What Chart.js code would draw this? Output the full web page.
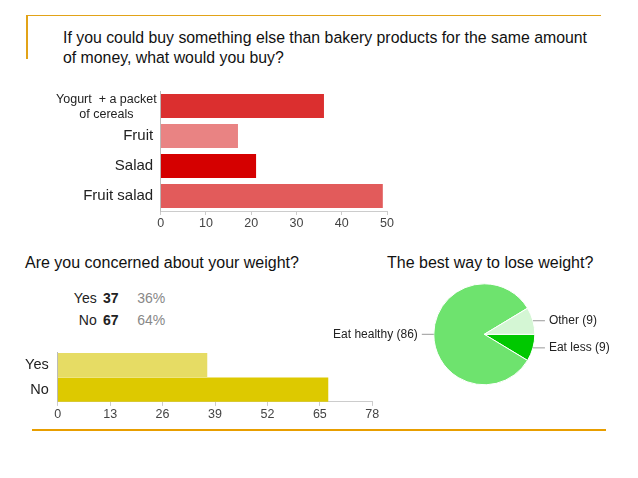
<!DOCTYPE html>
<html>
<head>
<meta charset="utf-8">
<script src="https://cdn.jsdelivr.net/npm/chart.js@4.4.1/dist/chart.umd.min.js"></script>
<style>
body { margin:0; width:638px; height:478px; background:#fff; position:relative; overflow:hidden; font-family:"Liberation Sans", Arial, sans-serif; color:#111; }
.gold { position:absolute; background:#e2a318; }
.title { position:absolute; font-size:16px; line-height:20px; white-space:nowrap; }
.cell { position:absolute; font-size:14px; line-height:20px; white-space:nowrap; }
canvas { position:absolute; }
</style>
</head>
<body>
<div class="gold" style="left:26px;top:14.5px;width:575px;height:1.6px"></div>
<div class="gold" style="left:26px;top:14.5px;width:1.6px;height:44px"></div>
<div class="gold" style="left:32px;top:429px;width:574px;height:1.8px;background:#e89e00"></div>

<div class="title" style="left:63px;top:28px;font-size:15.85px">If you could buy something else than bakery products for the same amount<br>of money, what would you buy?</div>
<canvas id="foodChart" width="400" height="150" style="left:0;top:85px"></canvas>

<div class="title" style="left:25px;top:253px">Are you concerned about your weight?</div>
<div id="weightTable"></div>
<canvas id="weightChart" width="400" height="95" style="left:0;top:335px"></canvas>

<div class="title" style="left:387px;top:253px">The best way to lose weight?</div>
<canvas id="lossChart" width="318" height="130" style="left:320px;top:270px"></canvas>

<script>
const foodLabels = [['Yogurt  + a packet', 'of cereals'], 'Fruit', 'Salad', 'Fruit salad'];
const foodValues = [36, 17, 21, 49];
const foodColors = ['#db2f2f', '#e98383', '#d50000', '#e25b5b'];
const foodTicks = [0, 10, 20, 30, 40, 50];

const weightLabels = ['Yes', 'No'];
const weightValues = [37, 67];
const weightColors = ['#e6dc64', '#ddc900'];
const weightTicks = [0, 13, 26, 39, 52, 65, 78];

const lossLabels = ['Eat less', 'Eat healthy', 'Other'];
const lossValues = [9, 86, 9];
const lossColors = ['#00c800', '#6ee36e', '#d4f6d4'];

const FONT = '"Liberation Sans", Arial, sans-serif';
Chart.defaults.font.family = FONT;
Chart.defaults.animation = false;

// x axis shared look for both bar charts
function valueAxis(ticks, height) {
    return {
        min: ticks[0],
        max: ticks[ticks.length - 1],
        afterFit: s => { s.height = height; },
        grid: { drawOnChartArea: false, drawTicks: true, tickLength: 4, color: '#ccc' },
        border: { color: '#ccc' },
        ticks: {
            stepSize: ticks[1] - ticks[0],
            autoSkip: false,
            maxRotation: 0,
            padding: 1,
            color: '#444',
            font: { size: 12.5 }
        }
    };
}

// top chart draws its own category labels (the first one is two centred lines)
const categoryLabels = {
    id: 'categoryLabels',
    afterDraw(chart) {
        const ctx = chart.ctx;
        const y = chart.scales.y;
        ctx.save();
        ctx.fillStyle = '#222';
        ctx.textBaseline = 'middle';
        foodLabels.forEach((lab, i) => {
            const cy = y.getPixelForValue(i);
            if (Array.isArray(lab)) {
                ctx.font = '12.5px ' + FONT;
                ctx.textAlign = 'center';
                const w = Math.max(...lab.map(l => ctx.measureText(l).width));
                lab.forEach((l, k) => {
                    ctx.fillText(l, y.right - 4 - w / 2, cy + 1 + (k - (lab.length - 1) / 2) * 14.3);
                });
            } else {
                ctx.font = '15px ' + FONT;
                ctx.textAlign = 'right';
                ctx.fillText(lab, y.right - 7.5, cy);
            }
        });
        ctx.restore();
    }
};

new Chart(document.getElementById('foodChart'), {
    type: 'bar',
    data: {
        labels: foodLabels,
        datasets: [{ data: foodValues, backgroundColor: foodColors, barThickness: 23.5 }]
    },
    options: {
        responsive: false,
        indexAxis: 'y',
        layout: { padding: { top: 6, right: 13, left: 0, bottom: 0 } },
        plugins: { legend: { display: false }, tooltip: { enabled: false } },
        scales: {
            x: valueAxis(foodTicks, 24),
            y: {
                afterFit: s => { s.width = 160.7; },
                grid: { display: false },
                border: { color: '#bbb' },
                ticks: { display: false }
            }
        }
    },
    plugins: [categoryLabels]
});

// small answer table above the yes/no bars
const total = weightValues.reduce((a, b) => a + b, 0);
const table = document.getElementById('weightTable');
weightLabels.forEach((lab, i) => {
    const top = 287.7 + i * 22.3;
    table.innerHTML +=
        `<div class="cell" style="left:40px;width:56.7px;text-align:right;top:${top}px;color:#222">${lab}</div>` +
        `<div class="cell" style="left:103px;top:${top}px;font-weight:bold;color:#222">${weightValues[i]}</div>` +
        `<div class="cell" style="left:137.3px;top:${top}px;color:#888">${Math.round(weightValues[i] / total * 100)}%</div>`;
});

new Chart(document.getElementById('weightChart'), {
    type: 'bar',
    data: {
        labels: weightLabels,
        datasets: [{ data: weightValues, backgroundColor: weightColors, barThickness: 23.5 }]
    },
    options: {
        responsive: false,
        indexAxis: 'y',
        layout: { padding: { top: 7.5, right: 27.7, left: 0, bottom: 0 } },
        plugins: { legend: { display: false }, tooltip: { enabled: false } },
        scales: {
            x: valueAxis(weightTicks, 28.1),
            y: {
                afterFit: s => { s.width = 57.7; },
                grid: { display: false, drawTicks: false },
                border: { color: '#bbb' },
                ticks: { padding: 9, color: '#222', font: { size: 14.5 } }
            }
        }
    }
});

// pie labels with short horizontal leader lines
const pieLabels = {
    id: 'pieLabels',
    afterDraw(chart) {
        const ctx = chart.ctx;
        ctx.save();
        ctx.font = '12px ' + FONT;
        ctx.textBaseline = 'middle';
        chart.getDatasetMeta(0).data.forEach((arc, i) => {
            const a = (arc.startAngle + arc.endAngle) / 2;
            const x = arc.x + Math.cos(a) * arc.outerRadius;
            const y = arc.y + Math.sin(a) * arc.outerRadius;
            const dir = Math.cos(a) >= 0 ? 1 : -1;
            ctx.strokeStyle = '#999';
            ctx.lineWidth = 1;
            ctx.beginPath();
            ctx.moveTo(x, y);
            ctx.lineTo(x + dir * 12, y);
            ctx.stroke();
            ctx.fillStyle = '#222';
            ctx.textAlign = dir > 0 ? 'left' : 'right';
            ctx.fillText(`${lossLabels[i]} (${lossValues[i]})`, x + dir * 16, y);
        });
        ctx.restore();
    }
};

new Chart(document.getElementById('lossChart'), {
    type: 'pie',
    data: {
        labels: lossLabels,
        datasets: [{ data: lossValues, backgroundColor: lossColors, borderColor: '#fff', borderWidth: 1 }]
    },
    options: {
        responsive: false,
        rotation: 90,
        layout: { padding: { left: 113.3, right: 102.7, top: 13.3, bottom: 14.7 } },
        plugins: { legend: { display: false }, tooltip: { enabled: false } }
    },
    plugins: [pieLabels]
});
</script>
</body>
</html>
